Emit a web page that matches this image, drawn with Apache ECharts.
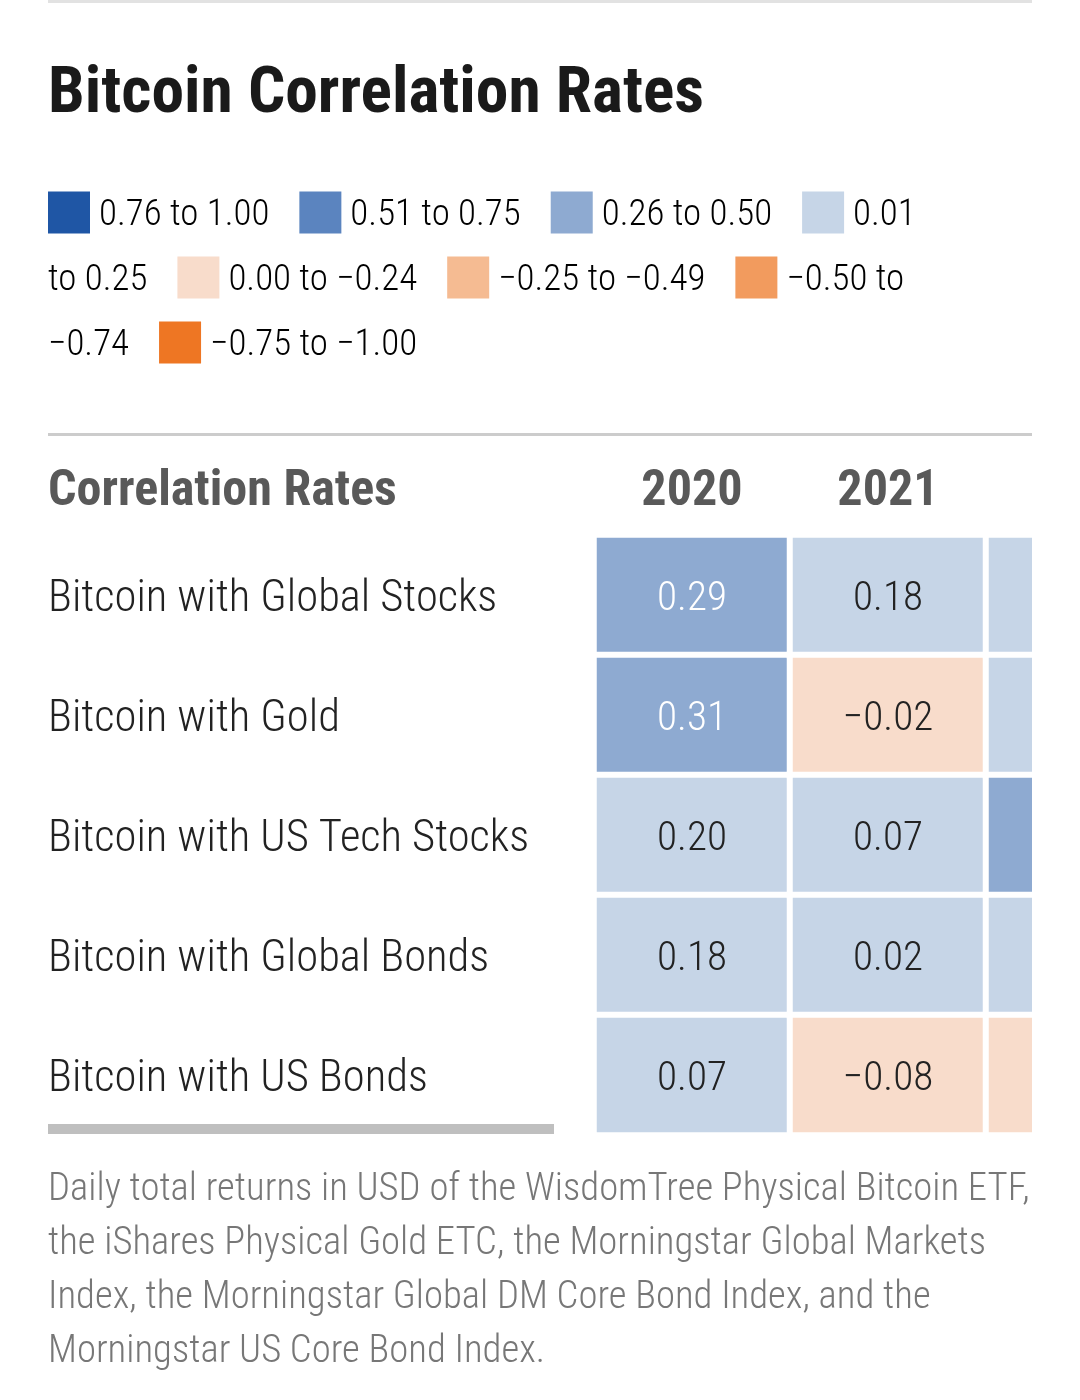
<!DOCTYPE html>
<html>
<head>
<meta charset="utf-8">
<title>Bitcoin Correlation Rates</title>
<script src="https://cdn.jsdelivr.net/npm/echarts@6/dist/echarts.min.js"></script>
<style>
  html, body { margin: 0; padding: 0; background: #fff; overflow: hidden; }
  #chart { width: 1200px; height: 1400px; }
</style>
</head>
<body>
<div id="chart"></div>
<script>
// data
var years = ['2020', '2021', '2022'];
var pairs = [
    'Bitcoin with Global Stocks',
    'Bitcoin with Gold',
    'Bitcoin with US Tech Stocks',
    'Bitcoin with Global Bonds',
    'Bitcoin with US Bonds'
];
var rates2020 = [0.29, 0.31, 0.20, 0.18, 0.07];
var rates2021 = [0.18, -0.02, 0.07, 0.02, -0.08];
// 2022 column is cut off in the source, only the colour band shows
var rates2022 = [0.16, 0.12, 0.34, 0.10, -0.05];

// colour bands (legend), top to bottom; \n = where the legend wraps
var bandLabels = ['0.76 to 1.00', '0.51 to 0.75', '0.26 to 0.50', '0.01\nto 0.25',
    '0.00 to \u22120.24', '\u22120.25 to \u22120.49', '\u22120.50 to\n\u22120.74', '\u22120.75 to \u22121.00'];
var bandColors = ['#1f56a5', '#5b84bf', '#8eaad1', '#c6d5e7', '#f8dccb', '#f5bb92', '#f29b5e', '#ee7623'];
var bandMin = [0.755, 0.505, 0.255, 0.005, -0.245, -0.495, -0.745, -1.01];
var bandMax = [1.01, 0.755, 0.505, 0.255, 0.005, -0.245, -0.495, -0.745];

var footnote = 'Daily total returns in USD of the WisdomTree Physical Bitcoin ETF,\n' +
    'the iShares Physical Gold ETC, the Morningstar Global Markets\n' +
    'Index, the Morningstar Global DM Core Bond Index, and the\n' +
    'Morningstar US Core Bond Index.';

// pick a condensed face that is actually installed
var ctx = document.createElement('canvas').getContext('2d');
function textW(font, s) {
    ctx.font = font;
    return ctx.measureText(s).width;
}
var probe = 'Bitcoin with Global Stocks';
var candidates = [
    {family: "'Noto Sans'", stretch: 'condensed'},
    {family: "'Liberation Sans Narrow'", stretch: ''},
    {family: "Roboto", stretch: 'condensed'},
    {family: "'DejaVu Sans'", stretch: 'condensed'},
    {family: "Roboto", stretch: ''}
];
var face = candidates[candidates.length - 1];
for (var i = 0; i < candidates.length - 1; i++) {
    var c = candidates[i];
    var ok;
    if (c.stretch) {
        ok = textW(c.stretch + ' 100px ' + c.family, probe) < 0.92 * textW('100px ' + c.family, probe);
    } else {
        var w1 = textW('100px ' + c.family + ', monospace', probe);
        ok = w1 !== textW('100px monospace', probe) && w1 < 0.9 * textW("100px 'Liberation Sans', monospace", probe);
    }
    if (ok) { face = c; break; }
}
var FAMILY = face.family + ', sans-serif';
function weight(w) {
    return (w + ' ' + face.stretch).trim();
}
// font size that makes a sample string as wide as it is in the source, capped by cap height
function fit(w, sample, target, maxSize) {
    var s = 100 * target / textW(weight(w) + ' 100px ' + FAMILY, sample);
    return Math.min(maxSize, Math.round(s * 10) / 10);
}
var LIGHT = '300';
var sizeTitle = fit('bold', 'Bitcoin Correlation Rates', 656, 76);
var sizeHead = fit('bold', 'Correlation Rates', 349, 55);
var sizeRow = fit(LIGHT, 'Bitcoin with Global Stocks', 449, 50);
var sizeCell = fit(LIGHT, '0.29', 70, 50);
var sizeLegend = fit(LIGHT, '0.00 to \u22120.24', 189, 45);
var sizeNote = fit(LIGHT, 'Daily total returns in USD of the WisdomTree Physical Bitcoin ETF,', 982, 43);

var myChart = echarts.init(document.getElementById('chart'));

var cols = [rates2020, rates2021, rates2022];
var cells = [];
cols.forEach(function (col, x) {
    col.forEach(function (v, y) {
        var dark = v >= 0.255 || v <= -0.495;
        cells.push({value: [x, y, v], label: {color: dark ? '#ffffff' : '#222222'}});
    });
});

// legend as one rich text block
var rich = {
    t: {
        fontFamily: FAMILY, fontWeight: weight(LIGHT), fontSize: sizeLegend, color: '#222',
        lineHeight: 65, verticalAlign: 'middle', padding: [6, 0, 0, 0]
    },
    g: {width: 9, lineHeight: 65, verticalAlign: 'middle'},
    sp: {width: 30, lineHeight: 65, verticalAlign: 'middle'}
};
var legendText = '';
bandLabels.forEach(function (lab, i) {
    rich['s' + i] = {width: 42, height: 42, backgroundColor: bandColors[i], lineHeight: 65, verticalAlign: 'middle'};
    legendText += '{s' + i + '|}{g|}{t|' + lab + '}';
    if (i < bandLabels.length - 1) legendText += '{sp|}';
});

var option = {
    backgroundColor: '#fff',
    animation: false,
    grid: {left: 594, top: 535, width: 588, height: 600, containLabel: false, outerBoundsMode: 'none'},
    xAxis: {
        type: 'category',
        data: years,
        position: 'top',
        axisLine: {show: false},
        axisTick: {show: false},
        splitLine: {show: false},
        axisLabel: {
            fontFamily: FAMILY, fontSize: sizeHead, fontWeight: weight('bold'), color: '#595959',
            verticalAlign: 'middle', margin: 43
        }
    },
    yAxis: {
        type: 'category',
        data: pairs,
        inverse: true,
        axisLine: {show: false},
        axisTick: {show: false},
        splitLine: {show: false},
        axisLabel: {
            align: 'left', margin: 546,
            formatter: function (v) { return '{r|' + v + '}'; },
            rich: {
                r: {
                    fontFamily: FAMILY, fontSize: sizeRow, fontWeight: weight(LIGHT), color: '#222',
                    padding: [10, 0, 0, 0]
                }
            }
        }
    },
    visualMap: {
        type: 'piecewise',
        show: false,
        dimension: 2,
        pieces: bandColors.map(function (c, i) {
            return {gte: bandMin[i], lt: bandMax[i], color: c};
        })
    },
    series: [{
        type: 'heatmap',
        data: cells,
        itemStyle: {borderColor: '#fff', borderWidth: 6},
        label: {
            show: true,
            fontFamily: FAMILY,
            fontWeight: weight(LIGHT),
            fontSize: sizeCell,
            offset: [0, 5],
            formatter: function (p) {
                var v = p.value[2];
                return (v < 0 ? '\u2212' : '') + Math.abs(v).toFixed(2);
            }
        },
        emphasis: {disabled: true}
    }],
    graphic: [
        {type: 'rect', x: 48, y: 0, shape: {width: 984, height: 3}, style: {fill: '#e2e2e2'}},
        {
            type: 'text', x: 48, y: 96,
            style: {
                text: 'Bitcoin Correlation Rates', fontFamily: FAMILY, fontSize: sizeTitle,
                fontWeight: weight('bold'), fill: '#1a1a1a', verticalAlign: 'middle'
            }
        },
        {type: 'text', x: 48, y: 180, style: {text: legendText, rich: rich, verticalAlign: 'top'}},
        {type: 'rect', x: 48, y: 433, shape: {width: 984, height: 3}, style: {fill: '#cccccc'}},
        {
            type: 'text', x: 48, y: 492,
            style: {
                text: 'Correlation Rates', fontFamily: FAMILY, fontSize: sizeHead,
                fontWeight: weight('bold'), fill: '#595959', verticalAlign: 'middle'
            }
        },
        {type: 'rect', x: 48, y: 1124, shape: {width: 506, height: 10}, style: {fill: '#bfbfbf'}},
        {
            type: 'text', x: 48, y: 1163,
            style: {
                text: footnote, fontFamily: FAMILY, fontWeight: weight(LIGHT), fontSize: sizeNote,
                lineHeight: 54, fill: '#777777', verticalAlign: 'top'
            }
        },
        // the table is cut off at the right edge of the page column
        {type: 'rect', x: 1032, y: 0, z: 100, shape: {width: 200, height: 1400}, style: {fill: '#ffffff'}}
    ]
};

myChart.setOption(option);
</script>
</body>
</html>
